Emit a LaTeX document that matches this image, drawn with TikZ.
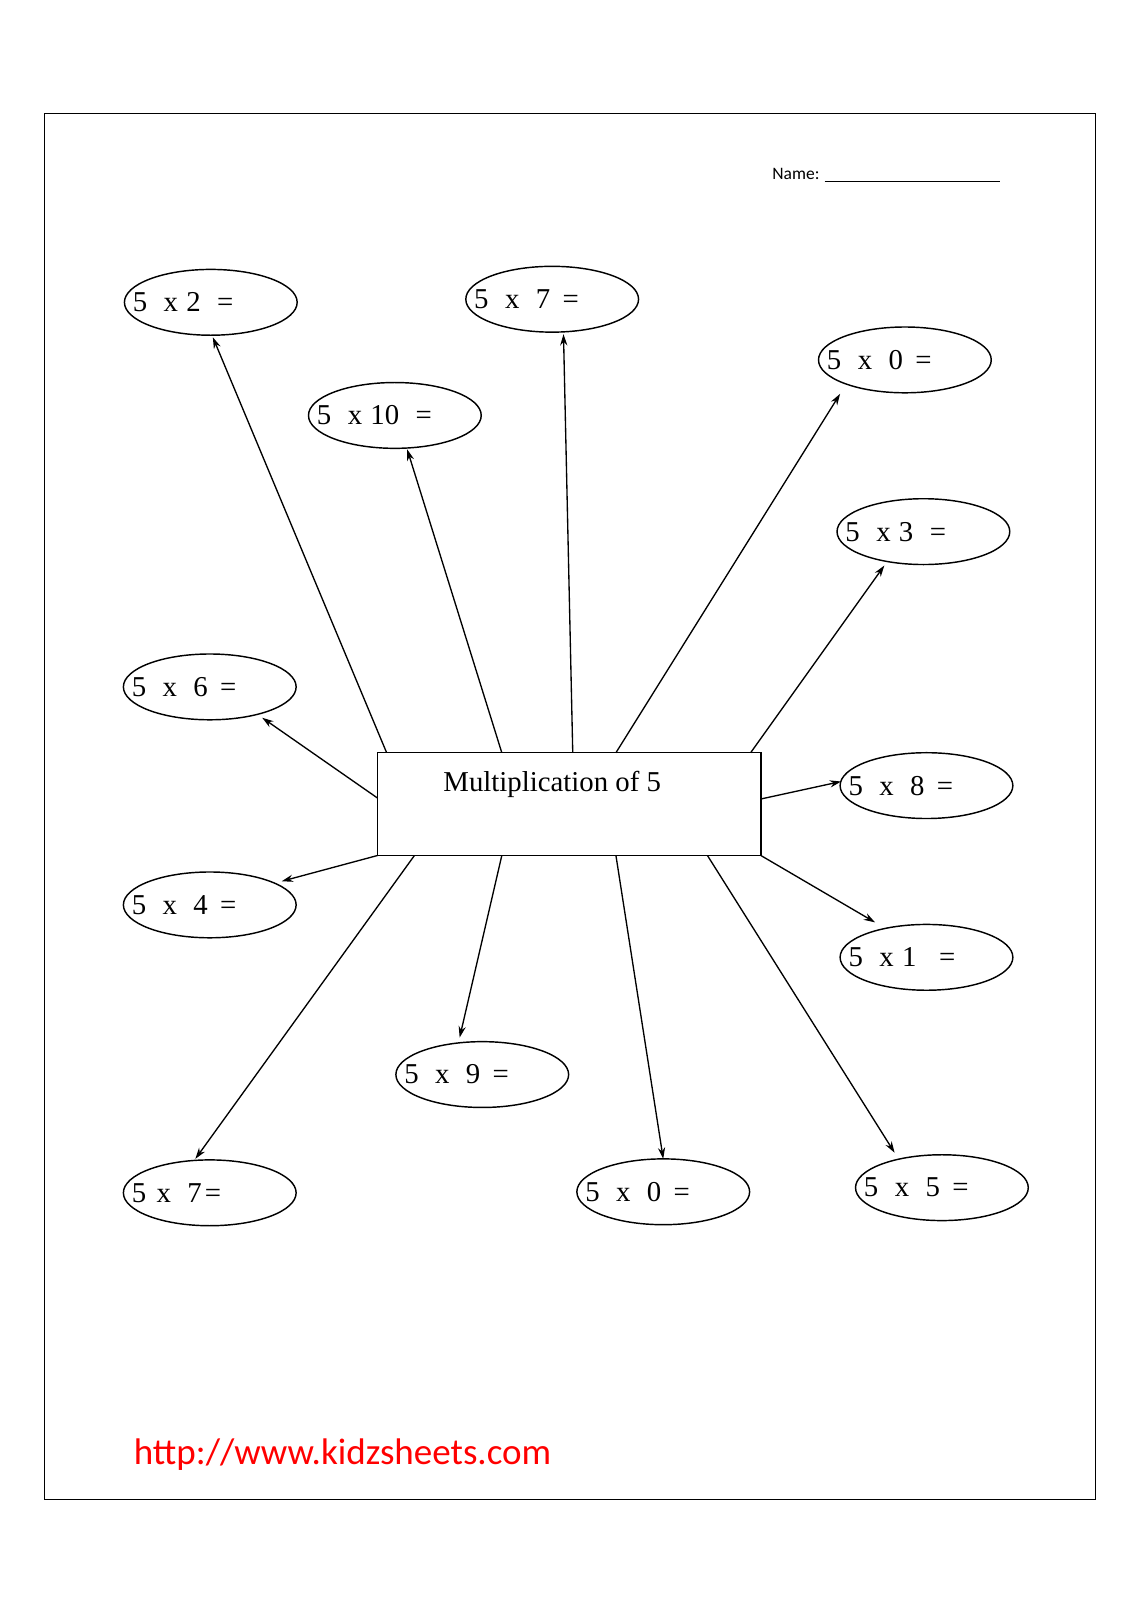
\documentclass[tikz,border=0pt]{standalone}
\usepackage{fontspec}
\setmainfont{Liberation Serif}
\newfontfamily\carl{Carlito}
\usetikzlibrary{shapes.geometric,arrows.meta}
\begin{document}
\begin{tikzpicture}[x=1pt,y=-1pt,
  ov/.style={draw,line width=1.4pt,ellipse,minimum width=168pt,minimum height=64pt,inner sep=0pt},
  lbl/.style={anchor=west,font=\fontsize{28}{30}\selectfont,inner sep=0pt},
  arr/.style={-{Stealth[length=11pt,width=7pt]},line width=1.3pt}]
\useasboundingbox (0,0) rectangle (1100,1556);
\draw[line width=1pt] (43,110) rectangle (1065,1458);
\node[anchor=west,font=\carl\fontsize{17}{18}\selectfont,inner sep=0pt] (name) at (751,170) {Name: \rule[-2pt]{170pt}{0.8pt}};
\node[draw,line width=1.3pt,minimum width=373pt,minimum height=100pt,inner sep=0pt] (box) at (553.5,782) {};
\node[font=\fontsize{28}{30}\selectfont,inner sep=0pt] (title) at (537,763) {Multiplication of 5};
\newcommand\gp[1]{\hspace{#1pt}}
\newcommand\ov[4]{\node[ov] (#1) at (#2,#3) {}; \node[lbl] at (#2-76,#3) {#4};}
\ov{a}{205}{294}{5\gp{16}x\gp{8}2\gp{16}=}
\ov{b}{537}{291}{5\gp{16}x\gp{16}7\gp{12}=}
\ov{c}{880}{350}{5\gp{16}x\gp{16}0\gp{12}=}
\ov{d}{384}{404}{5\gp{16}x\gp{8}10\gp{16}=}
\ov{e}{898}{517}{5\gp{16}x\gp{8}3\gp{16}=}
\ov{f}{204}{668}{5\gp{16}x\gp{16}6\gp{12}=}
\ov{g}{901}{764}{5\gp{16}x\gp{16}8\gp{12}=}
\ov{h}{204}{880}{5\gp{16}x\gp{16}4\gp{12}=}
\ov{i}{901}{931}{5\gp{16}x\gp{8}1\gp{22}=}
\ov{j}{469}{1045}{5\gp{16}x\gp{16}9\gp{12}=}
\ov{k}{204}{1160}{5\gp{10}x\gp{16}7\gp{3}=}
\ov{l}{645}{1159}{5\gp{16}x\gp{16}0\gp{12}=}
\ov{m}{916}{1155}{5\gp{16}x\gp{16}5\gp{12}=}
\coordinate (sa) at (376,732); \coordinate (sd) at (488,732);
\coordinate (sb) at (557,732); \coordinate (sc) at (599,732);
\coordinate (se) at (730,732); \coordinate (sf) at (367,776);
\coordinate (sg) at (740,777); \coordinate (sh) at (367,832);
\coordinate (si) at (740,832); \coordinate (sj) at (488,832);
\coordinate (sk) at (403,832); \coordinate (sl) at (599,832);
\coordinate (sm) at (688,832);
\coordinate (ta) at (207,328); \coordinate (td) at (396,437);
\coordinate (tb) at (548,325); \coordinate (tc) at (817,383);
\coordinate (te) at (860,550); \coordinate (tf) at (255,698);
\coordinate (tg) at (818,760); \coordinate (th) at (274,857);
\coordinate (ti) at (851,897); \coordinate (tj) at (447,1009);
\coordinate (tk) at (190,1127); \coordinate (tl) at (645,1127);
\coordinate (tm) at (870,1121);
\foreach \n in {a,b,c,d,e,f,g,h,i,j,k,l,m}{\draw[arr] (s\n) -- (t\n);}
\node[anchor=west,text=red,font=\carl\fontsize{36}{38}\selectfont,inner sep=0pt] (url) at (130,1415) {http://www.kidzsheets.com};
\end{tikzpicture}
\end{document}
